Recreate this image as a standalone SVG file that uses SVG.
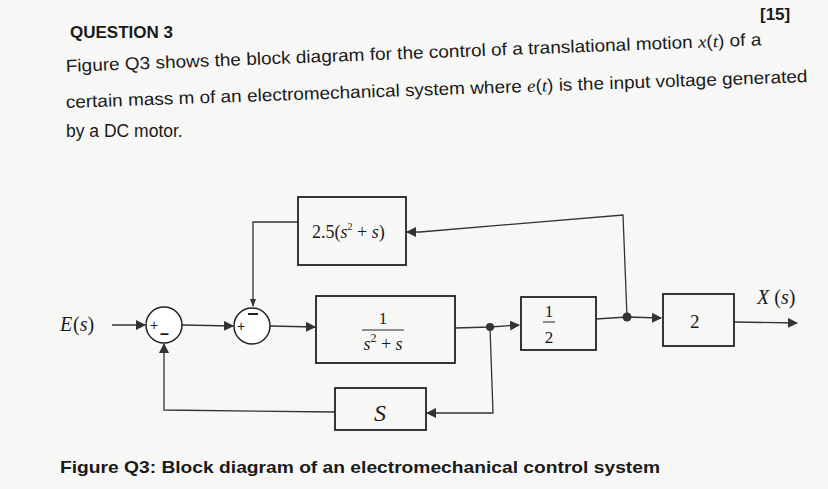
<svg xmlns="http://www.w3.org/2000/svg" width="828" height="489" viewBox="0 0 828 489">
<defs>
<marker id="ah" markerWidth="10" markerHeight="10" refX="9" refY="5" orient="auto" markerUnits="userSpaceOnUse"><path d="M0,0 L10,5 L0,10 Z" fill="#333"/></marker>
<marker id="sa" markerWidth="8" markerHeight="8" refX="7" refY="4" orient="auto" markerUnits="userSpaceOnUse"><path d="M0,1 L8,4 L0,7 Z" fill="#333"/></marker>
</defs>
<style>
.t{font-family:"Liberation Sans",Arial,sans-serif;fill:#1a1a1a}
.m{font-family:"Liberation Serif","Times New Roman",serif;fill:#1a1a1a}
.b{fill:none;stroke:#222;stroke-width:1.8}
.c{fill:#fff;stroke:#222;stroke-width:1.5}
.w{fill:none;stroke:#333;stroke-width:1.3}
</style>
<rect width="828" height="489" fill="#f7f7f5"/>
<text class="t" x="760" y="20" font-size="17" font-weight="bold">[15]</text>
<text class="t" x="70" y="38" font-size="17" font-weight="bold">QUESTION 3</text>
<text class="t" x="66" y="72" font-size="17.5" transform="rotate(-2.2 66 72)" textLength="696" lengthAdjust="spacingAndGlyphs">Figure Q3 shows the block diagram for the control of a translational motion <tspan class="m" font-style="italic">x</tspan>(<tspan class="m" font-style="italic">t</tspan>) of a</text>
<text class="t" x="66" y="108" font-size="17.5" transform="rotate(-2 66 108)" textLength="742" lengthAdjust="spacingAndGlyphs">certain mass m of an electromechanical system where <tspan class="m" font-style="italic">e</tspan>(<tspan class="m" font-style="italic">t</tspan>) is the input voltage generated</text>
<text class="t" x="66" y="137" font-size="17.5">by a DC motor.</text>
<g id="connectors">
<line class="w" x1="112" y1="325" x2="145" y2="325" marker-end="url(#ah)"/>
<line class="w" x1="182" y1="325" x2="233" y2="326" marker-end="url(#ah)"/>
<line class="w" x1="270" y1="326" x2="315" y2="327" marker-end="url(#ah)"/>
<polyline class="w" points="455,328 490,327 519,325" marker-end="url(#ah)"/>
<polyline class="w" points="596,319 627,317 661,318" marker-end="url(#ah)"/>
<line class="w" x1="734" y1="322" x2="797" y2="323" marker-end="url(#ah)"/>
<polyline class="w" points="627,317 623,215 420,232 407,232" marker-end="url(#ah)"/>
<polyline class="w" points="298,222 253,222 253,306" marker-end="url(#sa)"/>
<polyline class="w" points="490,327 493,413 427,413" marker-end="url(#ah)"/>
<polyline class="w" points="335,412 164,410 164,344" marker-end="url(#ah)"/>
<circle cx="490" cy="327" r="4" fill="#333"/>
<circle cx="627" cy="317" r="4.5" fill="#333"/>
</g>
<g id="in"><text class="m" x="60" y="331" font-size="20" font-style="italic">E</text><text class="m" x="73" y="331" font-size="20">(<tspan font-style="italic">s</tspan>)</text></g>
<g id="sum1"><circle class="c" cx="164" cy="325" r="18"/><text class="t" x="150" y="330" font-size="14">+</text><text class="t" x="160" y="339" font-size="16" font-weight="bold">–</text></g>
<g id="sum2"><circle class="c" cx="252" cy="326" r="18"/><text class="t" x="237" y="331" font-size="14">+</text><line x1="248" y1="314" x2="258" y2="314" stroke="#222" stroke-width="2"/></g>
<g id="g1"><rect class="b" x="298" y="197" width="108" height="68"/><text class="m" x="312" y="238" font-size="18">2.5(<tspan font-style="italic">s</tspan><tspan font-size="10" dy="-8">2</tspan><tspan dy="8"> + </tspan><tspan font-style="italic">s</tspan>)</text></g>
<g id="g2"><rect class="b" x="316" y="296" width="139" height="67"/><text class="m" x="383" y="324" font-size="17" text-anchor="middle">1</text><line x1="362" y1="330" x2="404" y2="330" stroke="#222" stroke-width="1"/><text class="m" x="383" y="350" font-size="18" text-anchor="middle"><tspan font-style="italic">s</tspan><tspan font-size="12" dy="-8">2</tspan><tspan dy="8"> + </tspan><tspan font-style="italic">s</tspan></text></g>
<g id="g3"><rect class="b" x="521" y="297" width="75" height="53"/><text class="m" x="549" y="317" font-size="17" text-anchor="middle">1</text><line x1="543" y1="322" x2="555" y2="322" stroke="#222" stroke-width="1"/><text class="m" x="549" y="343" font-size="17" text-anchor="middle">2</text></g>
<g id="g4"><rect class="b" x="663" y="294" width="71" height="52"/><text class="m" x="690" y="328" font-size="19">2</text></g>
<g id="g5"><rect class="b" x="335" y="388" width="91" height="42"/><text class="m" x="380" y="421" font-size="24" font-style="italic" text-anchor="middle">S</text></g>
<g id="out"><text class="m" x="757" y="304" font-size="20"><tspan font-style="italic">X</tspan> (<tspan font-style="italic">s</tspan>)</text></g>
<text class="t" x="60" y="473" font-size="17" font-weight="bold" textLength="600" lengthAdjust="spacingAndGlyphs">Figure Q3: Block diagram of an electromechanical control system</text>
</svg>
